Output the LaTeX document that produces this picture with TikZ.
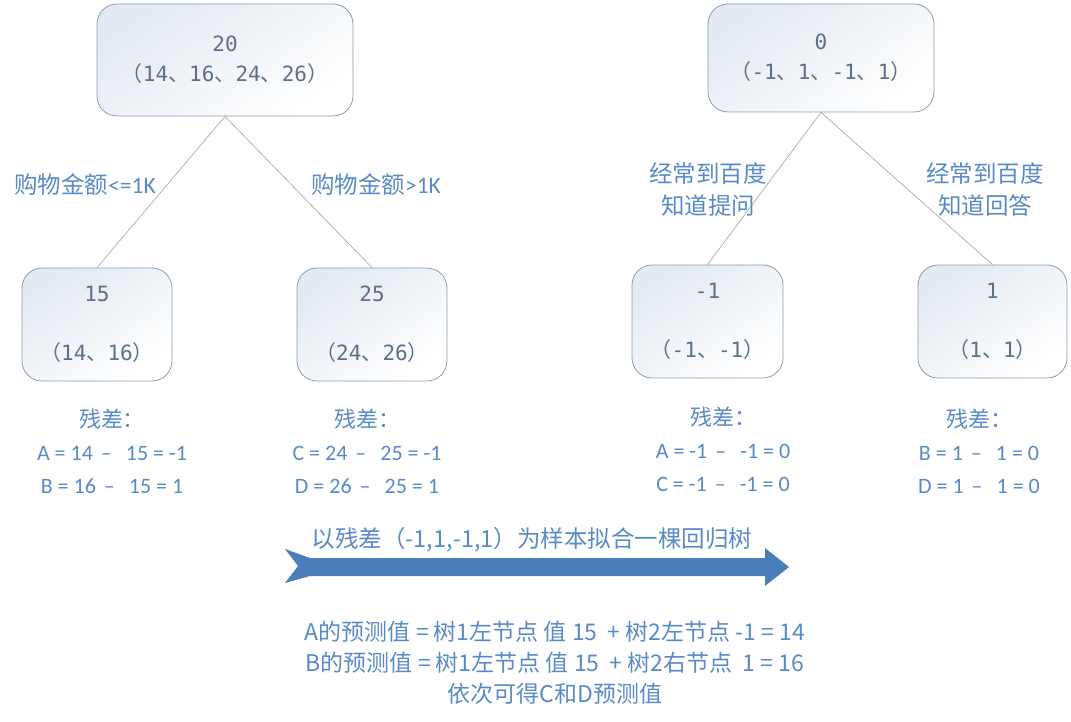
\documentclass[tikz,border=0pt]{standalone}
\usepackage{fontspec}
\setmainfont{Carlito}
\newfontfamily\cjk{Noto Sans CJK SC}
\newfontfamily\boxmono{DejaVu Sans Mono}
\usepackage{tikz}

\definecolor{lblblue}{HTML}{5A8AC6}
\definecolor{nodetext}{HTML}{5C7189}
\definecolor{boxline}{HTML}{8A9DB3}
\definecolor{boxfill}{HTML}{E3EAF2}
\definecolor{arrowblue}{HTML}{4A7EBB}
\definecolor{edgegray}{HTML}{A0A0A0}

% full-width punctuation inside the boxes
\newcommand{\lpar}{{\cjk （}}
\newcommand{\rpar}{{\cjk ）}}
\newcommand{\dunhao}{{\cjk 、}}
\newcommand{\minus}{\hspace{8pt}--\hspace{14pt}}

\tikzset{
  treebox/.style = {draw=boxline, line width=0.8pt, rounded corners=20pt,
    top color=boxfill, bottom color=white, shading angle=35,
    text=nodetext, align=center, inner sep=0pt,
    font=\boxmono\fontsize{21}{30}\selectfont},
  edgelbl/.style = {text=lblblue, align=center, font=\fontsize{23.5}{32}\selectfont},
  resid/.style = {text=lblblue, align=center, font=\fontsize{22}{33}\selectfont},
  branch/.style = {draw=edgegray, line width=0.6pt}
}

\begin{document}
\begin{tikzpicture}[x=1pt, y=-1pt]
    \useasboundingbox (0,0) rectangle (1071,722);

    % Tree 1
    \node[treebox, minimum width=256pt, minimum height=112pt] (root1) at (225,60)
        {20\\\lpar 14\dunhao 16\dunhao 24\dunhao 26\rpar};
    \node[treebox, minimum width=150pt, minimum height=113pt] (leaf1) at (97,324.5)
        {15\\[29pt]\lpar 14\dunhao 16\rpar};
    \node[treebox, minimum width=150pt, minimum height=113pt] (leaf2) at (372,324.5)
        {25\\[29pt]\lpar 24\dunhao 26\rpar};
    \draw[branch] (root1.south) -- (leaf1.north);
    \draw[branch] (root1.south) -- (leaf2.north);
    \node[edgelbl] (cond1) at (85,185) {{\cjk 购物金额}<=1K};
    \node[edgelbl] (cond2) at (376,185) {{\cjk 购物金额}>1K};

    % Tree 2 (fitted on the residuals)
    \node[treebox, minimum width=226pt, minimum height=108pt] (root2) at (821,58)
        {0\\\lpar -1\dunhao 1\dunhao -1\dunhao 1\rpar};
    \node[treebox, minimum width=151pt, minimum height=113pt] (leaf3) at (707.5,321.5)
        {-1\\[29pt]\lpar -1\dunhao -1\rpar};
    \node[treebox, minimum width=149pt, minimum height=113pt] (leaf4) at (992.5,321.5)
        {1\\[29pt]\lpar 1\dunhao 1\rpar};
    \draw[branch] (root2.south) -- (leaf3.north);
    \draw[branch] (root2.south) -- (leaf4.north);
    \node[edgelbl, font=\cjk\fontsize{23.5}{32}\selectfont] (cond3) at (708,190) {经常到百度\\知道提问};
    \node[edgelbl, font=\cjk\fontsize{23.5}{32}\selectfont] (cond4) at (985,190) {经常到百度\\知道回答};

    % Residuals under the leaves
    \node[resid] (res1) at (112,451) {{\cjk 残差：}\\A = 14\minus 15 = -1\\B = 16\minus 15 = 1};
    \node[resid] (res2) at (367,451) {{\cjk 残差：}\\C = 24\minus 25 = -1\\D = 26\minus 25 = 1};
    \node[resid] (res3) at (723,449) {{\cjk 残差：}\\A = -1\minus -1 = 0\\C = -1\minus -1 = 0};
    \node[resid] (res4) at (979,451) {{\cjk 残差：}\\B = 1\minus 1 = 0\\D = 1\minus 1 = 0};

    % Block arrow
    \fill[arrowblue] (285,549) -- (310,558) -- (765,558) -- (765,548) -- (789,567)
        -- (765,586) -- (765,576) -- (310,576) -- (285,583) -- (298,566) -- cycle;
    \node[edgelbl, font=\cjk\fontsize{23.5}{32}\selectfont] (fitlbl) at (532,540)
        {以残差（-1,1,-1,1）为样本拟合一棵回归树};

    % Predictions
    \node[resid, font=\cjk\fontsize{23}{31}\selectfont] (pred) at (555,663)
        {A的预测值 = 树1左节点 值 15 \ + 树2左节点 -1 = 14\\
         B的预测值 = 树1左节点 值 15 \ + 树2右节点 \ 1 = 16\\
         依次可得C和D预测值};
\end{tikzpicture}
\end{document}
